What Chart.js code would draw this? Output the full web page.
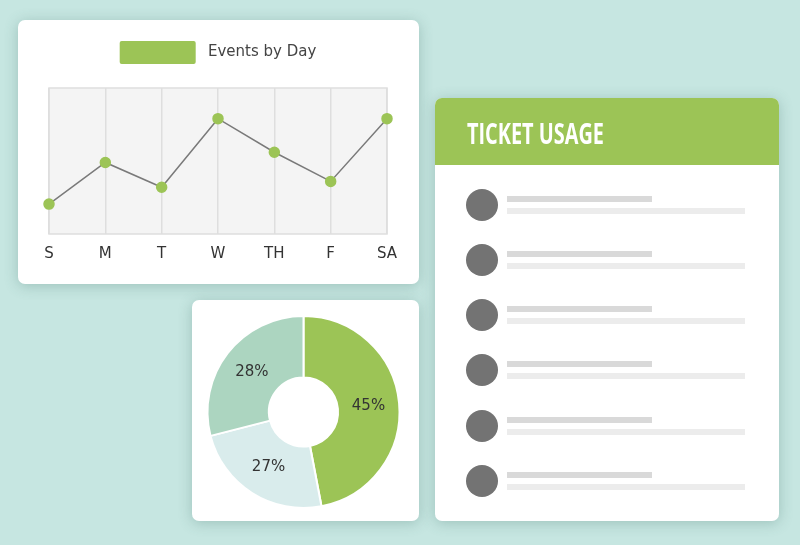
<!DOCTYPE html>
<html>
<head>
<meta charset="utf-8">
<script src="https://cdn.jsdelivr.net/npm/chart.js@4.4.0/dist/chart.umd.min.js"></script>
<style>
  html, body { margin: 0; padding: 0; }
  body { width: 800px; height: 545px; background: #c6e6e1; position: relative; overflow: hidden; font-family: "Open Sans", sans-serif; }
  .card { position: absolute; background: #fff; border-radius: 7px; box-shadow: 0 2px 14px rgba(60, 110, 100, 0.3); overflow: hidden; }
  #lineCard { left: 18px; top: 20px; width: 401px; height: 264px; }
  #pieCard { left: 192px; top: 300px; width: 227px; height: 221px; }
  #ticketCard { left: 435px; top: 98px; width: 344px; height: 423px; }
  .card canvas { position: absolute; left: 0; top: 0; }
  .head { height: 67px; background: #9cc456; color: #fff; position: relative; }
  .head span { position: absolute; left: 32px; top: 16px; font-family: "Open Sans", sans-serif; font-weight: bold; font-size: 28px; transform: scaleX(0.71); transform-origin: left top; white-space: nowrap; }
  .row { position: absolute; left: 31px; width: 290px; height: 32px; }
  .row .dot { position: absolute; left: 0; top: 0; width: 32px; height: 32px; border-radius: 50%; background: #737373; }
  .row .l1 { position: absolute; left: 41px; top: 7px; width: 145px; height: 6px; background: #d9d9d9; }
  .row .l2 { position: absolute; left: 41px; top: 19px; width: 238px; height: 6px; background: #ececec; }
</style>
</head>
<body>
<div class="card" id="lineCard"><canvas id="lineChart" width="401" height="264"></canvas></div>
<div class="card" id="pieCard"><canvas id="pieChart" width="227" height="221"></canvas></div>
<div class="card" id="ticketCard">
  <div class="head"><span>TICKET USAGE</span></div>
  <div id="rows"></div>
</div>
<script>
// line chart data
const days = ['S', 'M', 'T', 'W', 'TH', 'F', 'SA'];
const events = [2.05, 4.9, 3.2, 7.9, 5.6, 3.6, 7.9];

// doughnut data: slice sizes as drawn in the picture, and the printed labels
const usageLabels = ['A', 'B', 'C'];
const usageShare = [47, 24, 29];
const usageText = ['45%', '27%', '28%'];
const usageColors = ['#9cc456', '#d9ecec', '#acd5c0'];

// placeholder rows in the ticket card (top offsets of each row)
const rowTops = [91, 146, 201, 256, 312, 367];

const green = '#9cc456';
const font = '"DejaVu Sans", sans-serif';

// plot background + border for the line chart
const plotBox = {
    id: 'plotBox',
    beforeDraw: function(chart) {
        const a = chart.chartArea;
        const ctx = chart.ctx;
        ctx.save();
        ctx.fillStyle = '#f4f4f4';
        ctx.fillRect(a.left, a.top, a.right - a.left, a.bottom - a.top);
        ctx.strokeStyle = '#dedede';
        ctx.lineWidth = 1.5;
        ctx.strokeRect(a.left, a.top, a.right - a.left, a.bottom - a.top);
        ctx.restore();
    }
};

// extra space under the legend
const legendGap = {
    id: 'legendGap',
    beforeInit: function(chart) {
        const fit = chart.legend.fit;
        chart.legend.fit = function() {
            fit.bind(chart.legend)();
            this.height += 14;
        };
    }
};

new Chart(document.getElementById('lineChart'), {
    type: 'line',
    data: {
        labels: days,
        datasets: [{
            label: 'Events by Day',
            data: events,
            borderColor: '#7a7a7a',
            borderWidth: 1.5,
            backgroundColor: green,
            pointBackgroundColor: green,
            pointBorderColor: green,
            pointRadius: 5,
            tension: 0
        }]
    },
    options: {
        responsive: false,
        animation: false,
        layout: { padding: { left: 31, right: 32, top: 11, bottom: 10 } },
        plugins: {
            tooltip: { enabled: false },
            legend: {
                labels: {
                    boxWidth: 76,
                    boxHeight: 23,
                    padding: 10,
                    color: '#444',
                    font: { family: font, size: 15 },
                    generateLabels: function(chart) {
                        return [{ text: ' Events by Day', fillStyle: green, strokeStyle: green, lineWidth: 0, borderRadius: 2, datasetIndex: 0, fontColor: '#444' }];
                    }
                }
            }
        },
        scales: {
            x: {
                offset: false,
                grid: { color: '#dedede', lineWidth: 1.5, drawTicks: false },
                border: { display: false },
                ticks: { color: '#333', padding: 11, font: { family: font, size: 15 } }
            },
            y: { display: false, min: 0, max: 10 }
        }
    },
    plugins: [plotBox, legendGap]
});

// percent labels inside the slices
const sliceLabels = {
    id: 'sliceLabels',
    afterDatasetsDraw: function(chart) {
        const ctx = chart.ctx;
        const meta = chart.getDatasetMeta(0);
        ctx.save();
        ctx.fillStyle = '#333';
        ctx.font = '15px ' + font;
        ctx.textAlign = 'center';
        ctx.textBaseline = 'middle';
        meta.data.forEach(function(arc, i) {
            const p = arc.getCenterPoint();
            ctx.fillText(usageText[i], p.x, p.y);
        });
        ctx.restore();
    }
};

new Chart(document.getElementById('pieChart'), {
    type: 'doughnut',
    data: {
        labels: usageLabels,
        datasets: [{
            data: usageShare,
            backgroundColor: usageColors,
            borderColor: '#fff',
            borderWidth: 2
        }]
    },
    options: {
        responsive: false,
        animation: false,
        cutout: '36%',
        layout: { padding: { top: 15, bottom: 12, left: 14, right: 18 } },
        plugins: { legend: { display: false }, tooltip: { enabled: false } }
    },
    plugins: [sliceLabels]
});

// placeholder rows
const rows = document.getElementById('rows');
rowTops.forEach(function(t) {
    const r = document.createElement('div');
    r.className = 'row';
    r.style.top = t + 'px';
    r.innerHTML = '<div class="dot"></div><div class="l1"></div><div class="l2"></div>';
    rows.appendChild(r);
});
</script>
</body>
</html>
